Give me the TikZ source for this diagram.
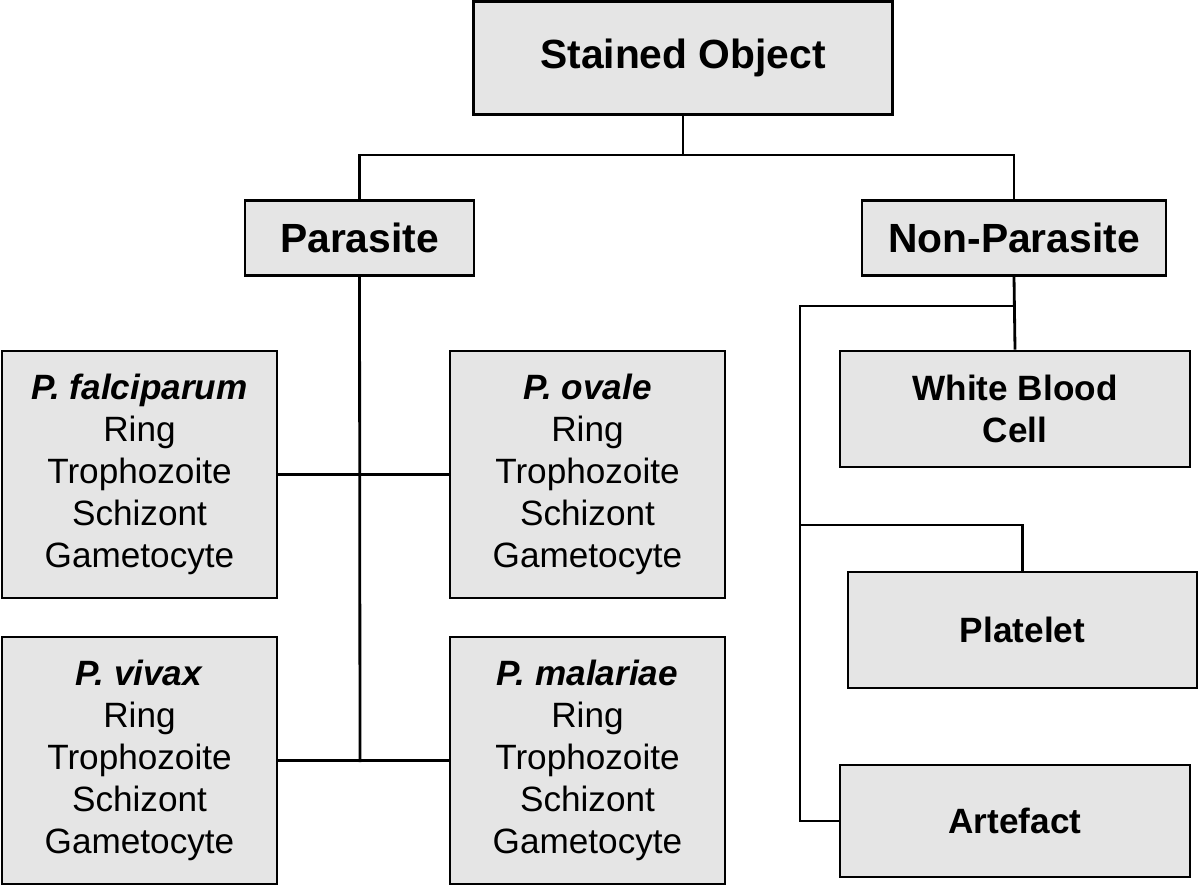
\documentclass[tikz,border=0pt]{standalone}
\usepackage{fontspec}
\setmainfont{Liberation Sans}
\begin{document}
\begin{tikzpicture}[x=0.025cm,y=-0.025cm,
  bx/.style={draw,line width=2pt,fill=gray!20,inner sep=0pt,align=center,font=\fontsize{25}{30}\selectfont},
  ln/.style={line width=2pt}]
\useasboundingbox (0,0) rectangle (1200,888);
\node[bx,minimum width=419*0.025cm,minimum height=113*0.025cm,font=\fontsize{29}{34}\selectfont\bfseries] (so) at (683,58) {Stained Object};
\node[bx,minimum width=229*0.025cm,minimum height=75*0.025cm,font=\fontsize{29}{34}\selectfont\bfseries] (pa) at (359.5,238) {Parasite};
\node[bx,minimum width=304*0.025cm,minimum height=75*0.025cm,font=\fontsize{29}{34}\selectfont\bfseries] (np) at (1014,238) {Non-Parasite};
\node[bx,minimum width=275*0.025cm,minimum height=247*0.025cm] (pf) at (139.5,474.5) {\textbf{\textit{P. falciparum}}\\Ring\\Trophozoite\\Schizont\\Gametocyte};
\node[bx,minimum width=275*0.025cm,minimum height=247*0.025cm] (po) at (587.5,474.5) {\textbf{\textit{P. ovale}}\\Ring\\Trophozoite\\Schizont\\Gametocyte};
\node[bx,minimum width=275*0.025cm,minimum height=247*0.025cm] (pv) at (139.5,760.5) {\textbf{\textit{P. vivax}}\\Ring\\Trophozoite\\Schizont\\Gametocyte};
\node[bx,minimum width=275*0.025cm,minimum height=247*0.025cm] (pm) at (587.5,760.5) {\textbf{\textit{P. malariae}}\\Ring\\Trophozoite\\Schizont\\Gametocyte};
\node[bx,minimum width=350*0.025cm,minimum height=116*0.025cm,font=\fontsize{25}{30}\selectfont\bfseries] (wbc) at (1015,409) {White Blood\\Cell};
\node[bx,minimum width=349*0.025cm,minimum height=116*0.025cm,font=\fontsize{25}{30}\selectfont\bfseries] (pl) at (1022.5,630) {Platelet};
\node[bx,minimum width=350*0.025cm,minimum height=112*0.025cm,font=\fontsize{25}{30}\selectfont\bfseries] (ar) at (1015,821) {Artefact};
\coordinate (j1) at (683,155);
\coordinate (pj) at (360,762);
\coordinate (nj) at (1014,306);
\coordinate (nl) at (800,306);
\draw[ln] (so.south) -- (j1);
\draw[ln] (pa.north) |- (j1) -| (np.north);
\draw[ln] (pa.south) -- (pj);
\draw[ln] (pf.east) -- (po.west);
\draw[ln] (pv.east) -- (pm.west);
\draw[ln] (np.south) -- (wbc.north);
\draw[ln] (nj) -- (nl) |- (ar.west);
\draw[ln] (800,525) -| (pl.north);
\end{tikzpicture}
\end{document}
